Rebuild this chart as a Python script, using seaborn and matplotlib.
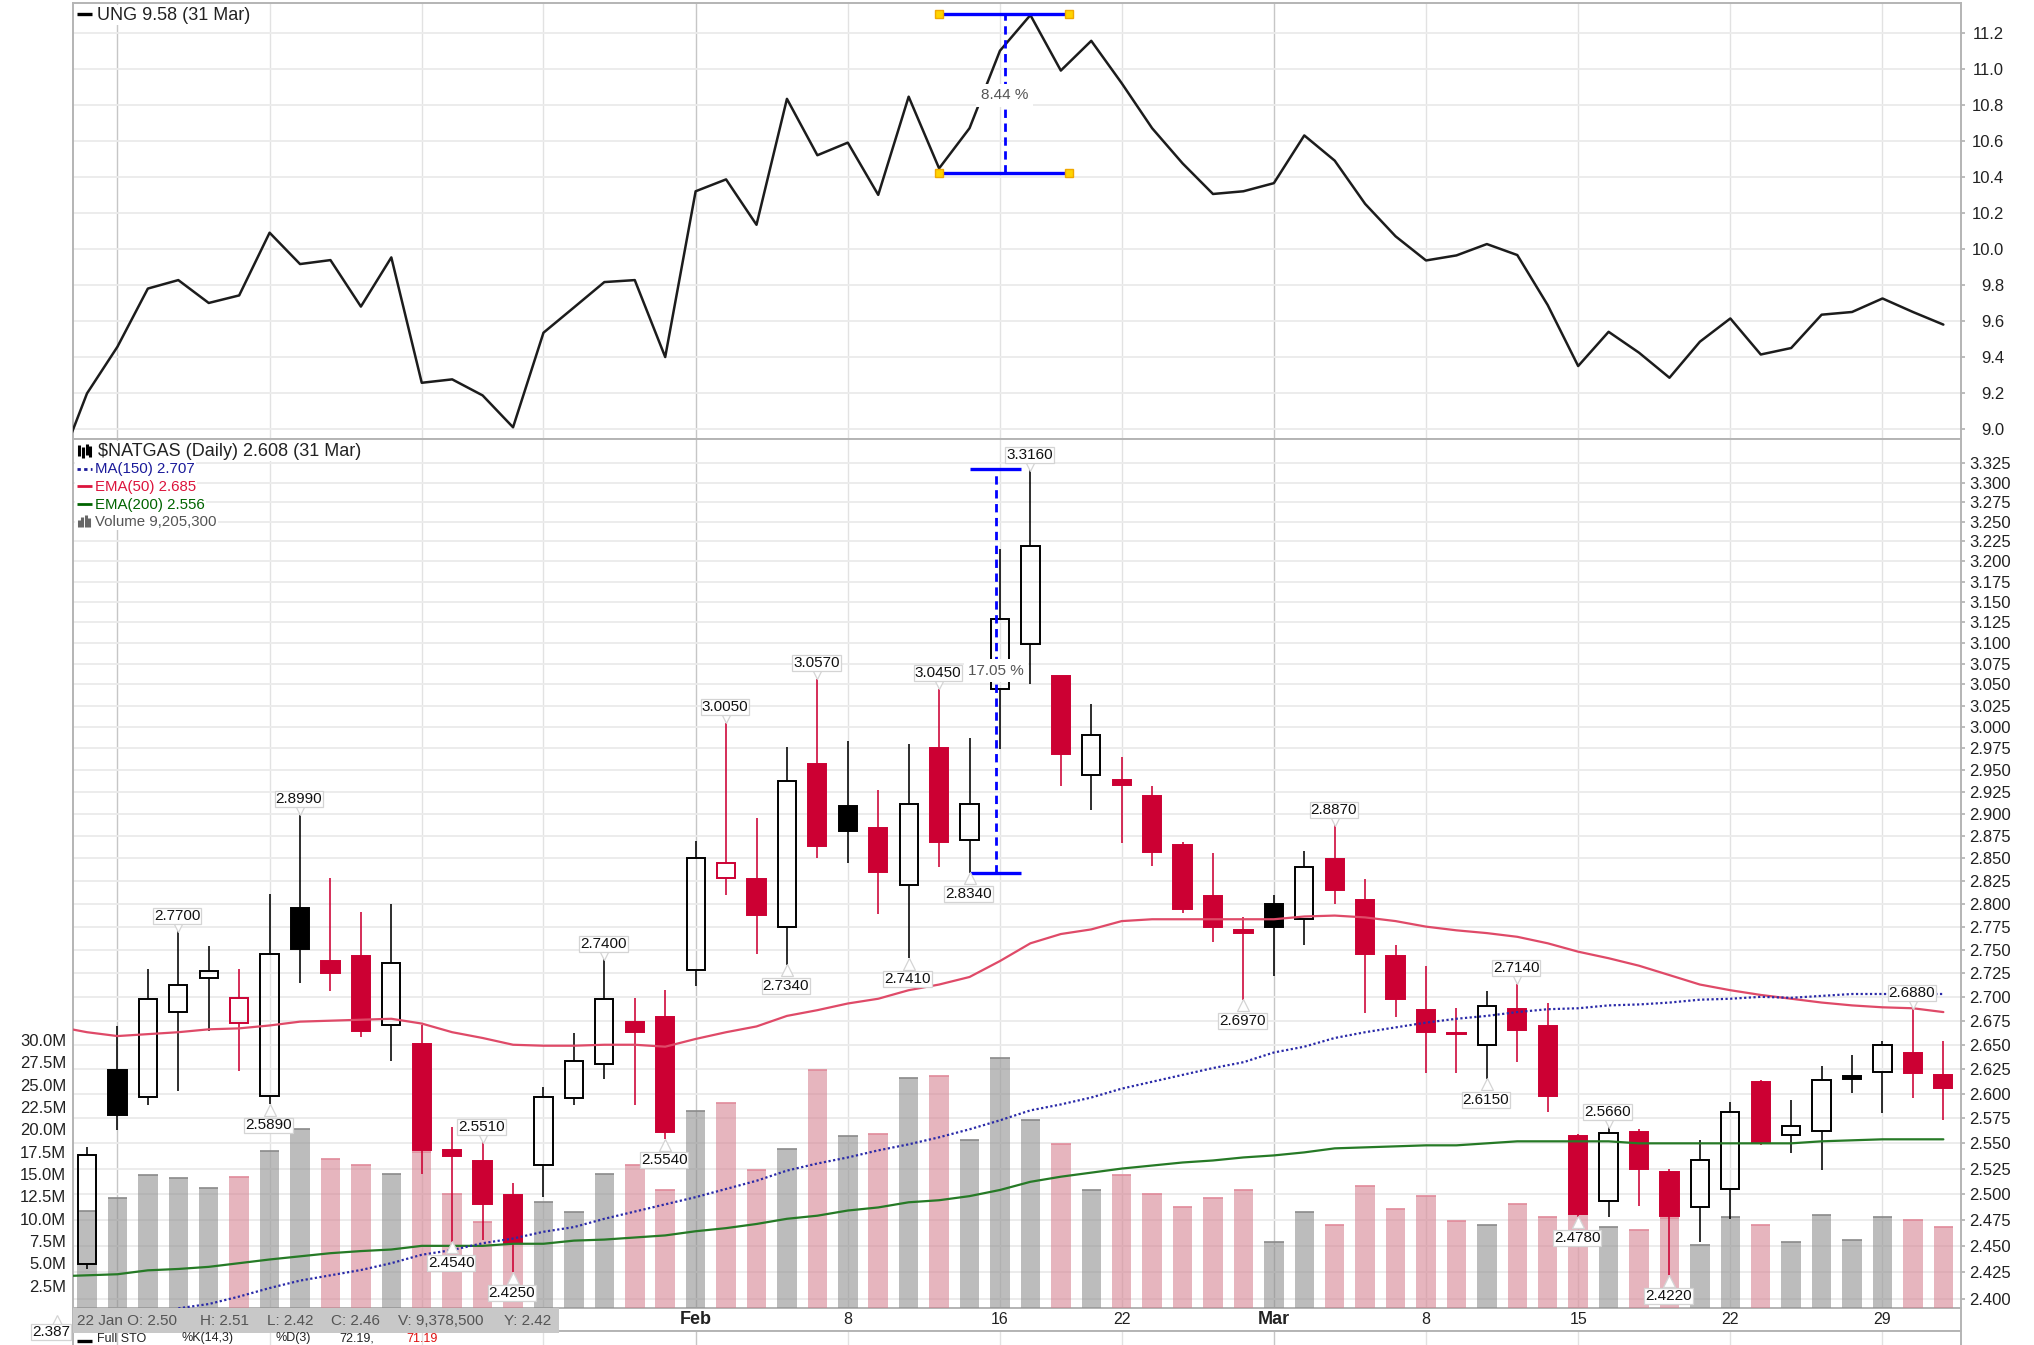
import numpy as np
import pandas as pd
import matplotlib
matplotlib.use("Agg")
import matplotlib.pyplot as plt
import matplotlib.transforms as mtrans
from matplotlib.ticker import NullLocator, FixedLocator, FixedFormatter
import seaborn as sns

# ---------- data ----------
# trading-day index 0..61; index -1 is the session just before the left edge
ung = [8.76, 9.198, 9.457, 9.78, 9.827, 9.70, 9.742, 10.09, 9.916, 9.938, 9.68, 9.953, 9.257, 9.276, 9.187, 9.01,
       9.535, 9.675, 9.816, 9.827, 9.40, 10.32, 10.386, 10.134, 10.833, 10.52, 10.59, 10.30, 10.845, 10.447, 10.67,
       11.10, 11.298, 10.99, 11.155, 10.92, 10.67, 10.475, 10.305, 10.32, 10.365, 10.63, 10.49, 10.25, 10.07, 9.936,
       9.964, 10.027, 9.966, 9.688, 9.35, 9.54, 9.424, 9.285, 9.485, 9.614, 9.414, 9.45, 9.635, 9.65, 9.725, 9.65, 9.58]
ema50 = [2.669, 2.663, 2.659, 2.661, 2.663, 2.666, 2.667, 2.670, 2.674, 2.675, 2.676, 2.677, 2.672, 2.663, 2.657, 2.650,
         2.649, 2.649, 2.650, 2.650, 2.648, 2.656, 2.663, 2.669, 2.680, 2.686, 2.693, 2.698, 2.707, 2.713, 2.721,
         2.738, 2.757, 2.767, 2.772, 2.781, 2.783, 2.783, 2.783, 2.783, 2.783, 2.786, 2.787, 2.785, 2.781, 2.775,
         2.771, 2.768, 2.764, 2.757, 2.748, 2.741, 2.733, 2.723, 2.713, 2.707, 2.702, 2.698, 2.694, 2.691, 2.689, 2.688, 2.684]
ema200 = [2.421, 2.422, 2.423, 2.4267, 2.428, 2.430, 2.4335, 2.437, 2.440, 2.443, 2.445, 2.4465, 2.450, 2.450, 2.450, 2.452,
          2.452, 2.455, 2.456, 2.458, 2.460, 2.464, 2.467, 2.471, 2.476, 2.479, 2.484, 2.487, 2.492, 2.494, 2.498,
          2.504, 2.512, 2.517, 2.521, 2.525, 2.528, 2.531, 2.533, 2.536, 2.538, 2.541, 2.545, 2.546, 2.547, 2.548,
          2.548, 2.550, 2.552, 2.552, 2.552, 2.552, 2.550, 2.550, 2.550, 2.550, 2.550, 2.550, 2.552, 2.553, 2.554, 2.554, 2.554]
ma150 = [np.nan, np.nan, np.nan, np.nan, 2.391, 2.395, 2.402, 2.410, 2.417, 2.422, 2.427, 2.4335, 2.4415, 2.446, 2.4525, 2.457,
         2.4635, 2.468, 2.476, 2.483, 2.490, 2.497, 2.505, 2.513, 2.523, 2.530, 2.536, 2.543, 2.549, 2.556, 2.564,
         2.573, 2.583, 2.589, 2.596, 2.605, 2.612, 2.619, 2.626, 2.632, 2.642, 2.648, 2.657, 2.663, 2.668, 2.673,
         2.677, 2.680, 2.684, 2.687, 2.688, 2.691, 2.692, 2.694, 2.697, 2.698, 2.700, 2.699, 2.701, 2.703, 2.703, 2.703, 2.703]

body_top = [2.538, 2.624, 2.698, 2.712, 2.7275, 2.6985, 2.745, 2.795, 2.738, 2.743, 2.736, 2.651, 2.543, 2.532, 2.499, 2.597,
            2.6335, 2.698, 2.674, 2.679, 2.850, 2.845, 2.827, 2.937, 2.957, 2.909, 2.884, 2.911, 2.975, 2.911,
            3.129, 3.219, 3.060, 2.990, 2.938, 2.920, 2.865, 2.808, 2.771, 2.800, 2.840, 2.849, 2.804, 2.743, 2.686,
            2.662, 2.690, 2.687, 2.669, 2.5575, 2.560, 2.561, 2.522, 2.533, 2.581, 2.612, 2.567, 2.614, 2.618, 2.650, 2.641, 2.619]
body_bottom = [2.433, 2.578, 2.597, 2.684, 2.720, 2.673, 2.598, 2.751, 2.725, 2.664, 2.670, 2.543, 2.537, 2.490, 2.453, 2.529,
               2.595, 2.630, 2.663, 2.561, 2.7285, 2.828, 2.788, 2.775, 2.864, 2.881, 2.835, 2.820, 2.868, 2.870,
               3.045, 3.098, 2.968, 2.944, 2.933, 2.857, 2.794, 2.775, 2.768, 2.775, 2.783, 2.815, 2.745, 2.698, 2.663,
               2.661, 2.650, 2.665, 2.598, 2.481, 2.493, 2.525, 2.479, 2.4875, 2.505, 2.551, 2.558, 2.562, 2.615, 2.622, 2.621, 2.606]
high = [2.546, 2.669, 2.730, 2.770, 2.754, 2.730, 2.811, 2.899, 2.828, 2.791, 2.800, 2.671, 2.566, 2.551, 2.511, 2.607,
        2.662, 2.740, 2.699, 2.707, 2.869, 3.005, 2.895, 2.977, 3.057, 2.984, 2.927, 2.980, 3.045, 2.9865,
        3.215, 3.316, 3.060, 3.027, 2.965, 2.931, 2.868, 2.856, 2.785, 2.810, 2.858, 2.887, 2.827, 2.755, 2.733,
        2.688, 2.706, 2.714, 2.693, 2.559, 2.566, 2.5645, 2.525, 2.553, 2.5915, 2.614, 2.593, 2.628, 2.639, 2.654, 2.688, 2.654]
low = [2.428, 2.563, 2.588, 2.603, 2.664, 2.623, 2.589, 2.715, 2.706, 2.658, 2.633, 2.520, 2.454, 2.456, 2.425, 2.497,
       2.588, 2.615, 2.588, 2.554, 2.711, 2.810, 2.746, 2.734, 2.850, 2.845, 2.789, 2.741, 2.840, 2.834,
       2.974, 3.050, 2.932, 2.904, 2.867, 2.841, 2.790, 2.758, 2.697, 2.722, 2.755, 2.800, 2.683, 2.679, 2.621,
       2.621, 2.615, 2.632, 2.581, 2.478, 2.478, 2.488, 2.422, 2.454, 2.476, 2.548, 2.540, 2.524, 2.601, 2.580, 2.595, 2.573]
candle_style = list("HSHHHrHSRRHRRRRHHHRRHrRHRSRHRHHHRHRRRRRSHRRRRRHRRRHRRHHRHHSHRR")

volume = [10.9, 12.3, 14.9, 14.5, 13.4, 14.7, 17.6, 20.0, 16.7, 16.0, 15.0, 17.5, 12.8, 9.6, 8.0, 11.9,
          10.8, 15.0, 16.0, 13.2, 22.1, 23.0, 15.4, 17.8, 26.6, 19.3, 19.5, 25.8, 26.0, 18.8,
          28.0, 21.0, 18.4, 13.2, 14.9, 12.8, 11.3, 12.3, 13.2, 7.4, 10.8, 9.3, 13.7, 11.1, 12.5,
          9.7, 9.3, 11.7, 10.2, 10.5, 9.1, 8.7, 10.1, 7.0, 10.2, 9.3, 7.4, 10.4, 7.6, 10.2, 9.9, 9.1]
volume_side = list("GGGGGRGGRRGRRRRGGGRRGRRGRGRGRGGGRGRRRRRGGRRRRRGRRRGRRGGRGGGGRR")

high_labels = {3: 2.770, 7: 2.899, 13: 2.551, 17: 2.740, 21: 3.005, 24: 3.057, 28: 3.045, 31: 3.316, 41: 2.887,
               47: 2.714, 50: 2.566, 60: 2.688}
low_labels = {6: 2.589, 12: 2.454, 14: 2.425, 19: 2.554, 23: 2.734, 27: 2.741, 29: 2.834, 38: 2.697, 46: 2.615,
              49: 2.478, 52: 2.422}

ung_ticks = [9.0, 9.2, 9.4, 9.6, 9.8, 10.0, 10.2, 10.4, 10.6, 10.8, 11.0, 11.2]
price_ticks = [round(2.4 + 0.025 * k, 3) for k in range(38)]
volume_ticks = [2.5, 5, 7.5, 10, 12.5, 15, 17.5, 20, 22.5, 25, 27.5, 30]
week_grid = [6, 11, 15, 25, 30, 34, 44, 49, 54, 59]
month_grid = [1, 20, 39]
date_labels = {20: "Feb", 25: "8", 30: "16", 34: "22", 39: "Mar", 44: "8", 49: "15", 54: "22", 59: "29"}
hover_parts = ["22 Jan O: 2.50", "H: 2.51", "L: 2.42", "C: 2.46", "V: 9,378,500", "Y: 2.42"]
sto_parts = ["Full STO", "%K(14,3)", "%D(3)", "72.19,", "71.19"]

ung_measure = (10.42, 11.304, "8.44 %")
price_measure = (2.834, 3.3175, "17.05 %")

# ---------- layout ----------
W, H = 2034, 1345
sns.set_theme(style="white")
plt.rcParams["font.family"] = ["Liberation Sans", "DejaVu Sans"]
fig = plt.figure(figsize=(W / 100, H / 100), dpi=100, facecolor="white")


def rect(l, t, r, b):
    return [l / W, 1 - b / H, (r - l) / W, (b - t) / H]


L, R = 73, 1961
XLIM = (-0.46, 61.58)
SPINE = "#b4b4b4"
GRID = "#ebebeb"
RED = "#cc0033"
days = np.arange(0, 62)
days_prior = np.arange(-1, 62)


def style_spines(ax):
    for s in ax.spines.values():
        s.set_color(SPINE)
        s.set_linewidth(1.4)
        s.set_visible(True)


def vgrid(ax):
    ax.vlines(week_grid, 0, 1, transform=ax.get_xaxis_transform(), color="#e2e2e2", lw=1.0, zorder=0.5)
    ax.vlines(month_grid, 0, 1, transform=ax.get_xaxis_transform(), color="#c6c6c6", lw=1.0, zorder=0.5)


# ---------- top panel ----------
ax_top = fig.add_axes(rect(L, 3, R, 439), zorder=1)
ax_top.set_xlim(*XLIM)
ax_top.set_ylim(8.945, 11.365)
ax_top.set_yticks(ung_ticks, [f"{v:.1f}" for v in ung_ticks])
ax_top.set_xticks([])
ax_top.yaxis.tick_right()
ax_top.tick_params(axis="y", labelsize=12, length=3, color=SPINE, pad=28, labelcolor="#222222")
for t in ax_top.get_yticklabels():
    t.set_ha("right")
ax_top.grid(axis="y", color=GRID, lw=1.3, zorder=0)
ax_top.set_axisbelow(True)
vgrid(ax_top)
style_spines(ax_top)
sns.lineplot(x=days_prior, y=ung, color="#1c1c1c", lw=1.8, estimator=None, sort=False, ax=ax_top, zorder=3)
ax_top.set_xlim(*XLIM)
ax_top.set_ylim(8.945, 11.365)
ax_top.set_xlabel("")
ax_top.set_ylabel("")

lo, hi, txt = ung_measure
ax_top.hlines([lo, hi], 28.0, 32.27, color="#0000ff", lw=2.4, zorder=4)
ax_top.plot([28.0, 32.27, 28.0, 32.27], [lo, lo, hi, hi], ls="none", marker="s", ms=5.5, mfc="#ffd400",
            mec="#f0a800", mew=1, zorder=5)
ax_top.vlines(30.15, lo, hi, color="#0000ff", lw=2, linestyles=[(0, (3, 2))], zorder=4)
ax_top.text(30.15, np.sqrt(lo * hi), txt, ha="center", va="center", fontsize=11, color="#555555", zorder=6,
            bbox=dict(boxstyle="square,pad=0.3", fc="white", ec="none"))

# ---------- lower panel: grid layer ----------
pos_low = rect(L, 439, R, 1308)
PLIM = (2.3913, 3.3566)
ax_grid = fig.add_axes(pos_low, zorder=1)
ax_grid.set_yscale("log")
ax_grid.set_xlim(*XLIM)
ax_grid.set_ylim(*PLIM)
ax_grid.yaxis.set_major_locator(FixedLocator(price_ticks))
ax_grid.yaxis.set_major_formatter(FixedFormatter([f"{v:.3f}" for v in price_ticks]))
ax_grid.yaxis.set_minor_locator(NullLocator())
ax_grid.set_xticks([])
ax_grid.yaxis.tick_right()
ax_grid.tick_params(axis="y", which="major", labelsize=12, length=3, color=SPINE, pad=3, labelcolor="#222222")
ax_grid.grid(axis="y", which="major", color=GRID, lw=1.3, zorder=0)
ax_grid.set_axisbelow(True)
vgrid(ax_grid)
style_spines(ax_grid)

# ---------- lower panel: volume ----------
ax_vol = fig.add_axes(pos_low, zorder=2)
ax_vol.patch.set_visible(False)
vol_df = pd.DataFrame({"day": days, "volume": volume, "side": volume_side})
sns.barplot(data=vol_df, x="day", y="volume", hue="side", palette={"G": "#8d8d8d", "R": "#d4808f"},
            native_scale=True, dodge=False, width=0.64, alpha=0.58, saturation=1, linewidth=0,
            legend=False, ax=ax_vol)
for side, col in (("G", "#8a8a8a"), ("R", "#e08a9a")):
    sub = vol_df[vol_df.side == side]
    ax_vol.hlines(sub.volume, sub.day - 0.32, sub.day + 0.32, color=col, lw=1.2, zorder=3)
ax_vol.set_xlim(*XLIM)
ax_vol.set_ylim(0, 97.3)
ax_vol.set_xticks([])
ax_vol.set_yticks(volume_ticks, [f"{v:.1f}M" for v in volume_ticks])
ax_vol.tick_params(axis="y", labelsize=12, length=0, pad=5, labelcolor="#222222")
ax_vol.set_xlabel("")
ax_vol.set_ylabel("")
for s in ax_vol.spines.values():
    s.set_visible(False)

# ---------- lower panel: candles, averages, callouts ----------
ax = fig.add_axes(pos_low, zorder=3)
ax.patch.set_visible(False)
ax.set_yscale("log")
edge_map = {"H": "black", "S": "black", "R": RED, "r": RED}
fill_map = {"H": "none", "S": "black", "R": RED, "r": "none"}
for i, st in enumerate(candle_style):
    c = edge_map[st]
    ax.vlines(i, body_top[i], high[i], color=c, lw=1.15, zorder=3)
    ax.vlines(i, low[i], body_bottom[i], color=c, lw=1.15, zorder=3)
    ax.bar(i, body_top[i] - body_bottom[i], bottom=body_bottom[i], width=0.6, facecolor=fill_map[st],
           edgecolor=c, linewidth=1.4, zorder=3.2)

sns.lineplot(x=days_prior, y=ema200, color="#267a26", lw=1.6, estimator=None, sort=False, ax=ax, zorder=4)
sns.lineplot(x=days_prior, y=ema50, color="#df4a68", lw=1.6, estimator=None, sort=False, ax=ax, zorder=4)
sns.lineplot(x=days_prior, y=ma150, color="#2a2aa8", lw=1.6, linestyle=(0, (1, 1.1)), estimator=None, sort=False,
             ax=ax, zorder=4)

lo, hi, txt = price_measure
ax.hlines([lo, hi], 29.0, 30.68, color="#0000ff", lw=2.4, zorder=5)
ax.vlines(29.87, lo, hi, color="#0000ff", lw=2, linestyles=[(0, (3, 2))], zorder=5)
ax.text(29.87, np.sqrt(lo * hi), txt, ha="center", va="center", fontsize=11, color="#555555", zorder=6,
        bbox=dict(boxstyle="square,pad=0.3", fc="white", ec="none"))

tail_up = mtrans.offset_copy(ax.transData, fig, y=5.5, units="dots")
tail_dn = mtrans.offset_copy(ax.transData, fig, y=-5.5, units="dots")
BOX = dict(boxstyle="square,pad=0.06", fc="white", ec="#d4d4d4", lw=0.9)
for i, v in high_labels.items():
    ax.plot([i], [v], ls="none", marker="v", ms=8, mfc="white", mec="#d4d4d4", mew=0.9, transform=tail_up, zorder=7)
    ax.annotate(f"{v:.4f}", (i, v), xytext=(-1, 15.5), textcoords="offset pixels", ha="center", va="center",
                fontsize=11, color="#111111", zorder=8, bbox=BOX)
for i, v in low_labels.items():
    ax.plot([i], [v], ls="none", marker="^", ms=8, mfc="white", mec="#d4d4d4", mew=0.9, transform=tail_dn, zorder=7)
    ax.annotate(f"{v:.4f}", (i, v), xytext=(-1, -21), textcoords="offset pixels", ha="center", va="center",
                fontsize=11, color="#111111", zorder=8, bbox=BOX)
ax.set_xlim(*XLIM)
ax.set_ylim(*PLIM)
ax.axis("off")

# ---------- date strip ----------
ax_strip = fig.add_axes(rect(L, 1308, R, 1331), zorder=1)
ax_strip.set_xlim(*XLIM)
ax_strip.set_ylim(0, 1)
ax_strip.set_yticks([])
ax_strip.set_xticks(days, [""] * len(days))
ax_strip.tick_params(axis="x", direction="in", length=3, color="#c8c8c8", width=0.8)
style_spines(ax_strip)
for i, lab in date_labels.items():
    bold = lab in ("Feb", "Mar")
    ax_strip.text(i, 0.5, lab, ha="center", va="center", fontsize=13 if bold else 11.5,
                  fontweight="bold" if bold else "normal", color="#222222")

# ---------- cropped indicator panel below ----------
ax_sto = fig.add_axes(rect(L, 1331, R, 1347), zorder=1)
ax_sto.set_xlim(*XLIM)
ax_sto.set_ylim(0, 1)
ax_sto.set_xticks([])
ax_sto.set_yticks([])
vgrid(ax_sto)
style_spines(ax_sto)

# ---------- overlay: headers, hover bar, outside label ----------
ov = fig.add_axes([0, 0, 1, 1], zorder=10)
ov.set_xlim(0, W)
ov.set_ylim(H, 0)
ov.axis("off")
ov.patch.set_visible(False)
WB = dict(boxstyle="square,pad=0.08", fc="white", ec="none")

ov.plot([77, 92], [14, 14], color="black", lw=2.4, solid_capstyle="butt")
ov.text(97, 15, "UNG 9.58 (31 Mar)", fontsize=13, va="center", color="#222222", bbox=WB)

ov.add_patch(plt.Rectangle((75, 443), 96, 84, fc="white", ec="none"))
ov.vlines([79, 83, 87, 90], [445, 447, 444, 446], [456, 458, 455, 457], color="black", lw=2.2)
ov.text(98, 451, "$NATGAS (Daily) 2.608 (31 Mar)", fontsize=13, va="center", color="#222222", bbox=WB)
ov.plot([77, 92], [469, 469], color="#1a1a9a", lw=2, ls=(0, (1.2, 1.2)))
ov.text(95, 469, "MA(150) 2.707", fontsize=10.8, va="center", color="#1a1a9a", bbox=WB)
ov.plot([77, 92], [486, 486], color="#dc143c", lw=2, solid_capstyle="butt")
ov.text(95, 487, "EMA(50) 2.685", fontsize=10.8, va="center", color="#dc143c", bbox=WB)
ov.plot([77, 92], [504, 504], color="#006400", lw=2, solid_capstyle="butt")
ov.text(95, 505, "EMA(200) 2.556", fontsize=10.8, va="center", color="#006400", bbox=WB)
ov.vlines([78.5, 82, 85.5, 89], [520, 517, 515, 518], [527, 527, 527, 527], color="#666666", lw=2.2)
ov.text(95, 522, "Volume 9,205,300", fontsize=10.8, va="center", color="#555555", bbox=WB)

ov.add_patch(plt.Rectangle((73, 1308), 486, 25, fc="#c8c8c8", ec="none"))
for x, part in zip([77, 200, 267, 331, 398, 504], hover_parts):
    ov.text(x, 1321, part, fontsize=11, va="center", color="#555555")

ov.plot([57], [1320], ls="none", marker="^", ms=7, mfc="white", mec="#d4d4d4", mew=0.9)
ov.text(51, 1332, "2.387", fontsize=11, ha="center", va="center", color="#111111",
        bbox=dict(boxstyle="square,pad=0.08", fc="white", ec="#d4d4d4", lw=0.9))

ov.plot([77, 92], [1341, 1341], color="black", lw=2.4, solid_capstyle="butt")
for x, part, col in zip([97, 181, 275, 339, 406], sto_parts, ["#222222"] * 4 + ["#e01010"]):
    ov.text(x, 1344.5, part, fontsize=9, va="bottom", color=col)

fig.savefig("out.png", dpi=100, facecolor="white")
